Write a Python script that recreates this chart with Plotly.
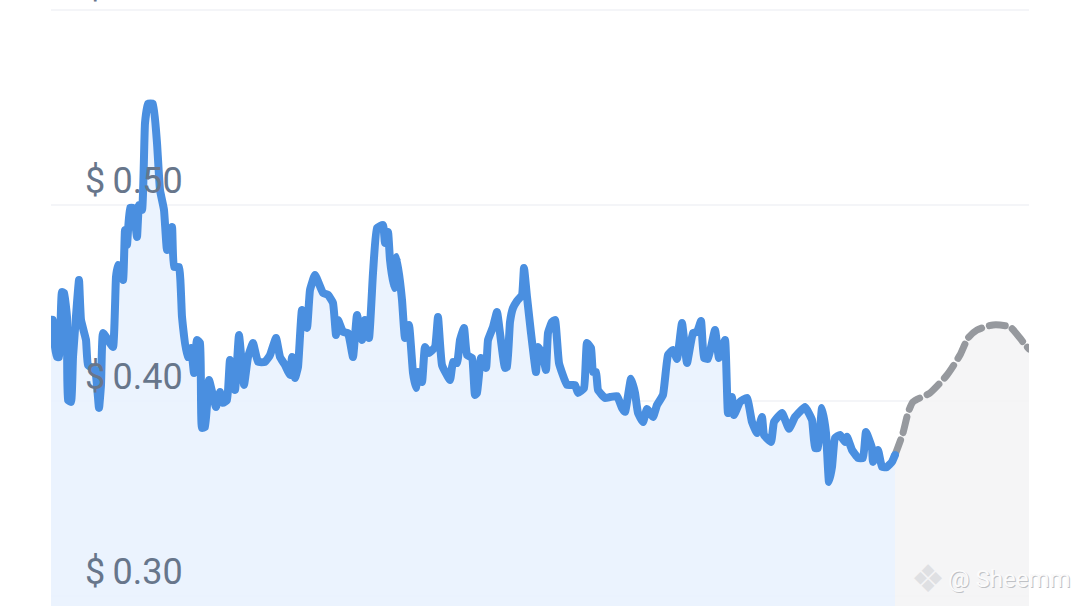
import plotly.graph_objects as go

days = [0,2,4,6,8,11,13,16,17,20,22,26,28,30,35,37,44,48,50,52,57,62,65,67,72,74,76,79,82,86,88,91,94,97,102,106,109,113,116,121,123,128,131,136,140,143,146,149,151,154,158,165,169,172,176,179,184,188,193,197,202,207,214,219,225,229,234,239,241,244,247,251,256,259,264,272,277,282,285,287,292,297,302,306,311,314,318,322,326,332,334,337,339,343,346,351,354,358,362,365,367,371,374,378,384,387,391,399,402,406,409,413,416,421,424,426,430,435,437,442,446,449,454,456,459,462,466,471,473,476,480,485,487,491,495,497,501,504,508,516,524,527,533,536,540,542,545,547,554,559,566,571,574,580,584,587,592,596,602,606,612,617,622,626,631,636,642,646,650,653,657,664,668,674,677,681,683,689,696,701,706,711,713,720,723,731,738,744,754,761,764,767,771,775,778,781,784,789,794,796,801,807,812,815,821,822,827,831,836,841,844]
prices = [.4414,.4414,.4275,.4224,.4224,.4557,.4552,.4429,.4004,.3994,.4224,.4501,.4618,.4414,.4311,.4183,.4158,.3963,.4081,.4347,.4311,.4275,.4634,.4695,.4618,.4874,.4798,.4987,.4987,.4839,.5002,.4977,.5422,.5520,.5520,.5320,.5079,.4977,.4772,.4890,.4685,.4685,.4429,.4224,.4270,.4142,.4311,.4296,.3861,.3866,.4106,.3968,.4045,.3989,.4004,.4209,.4055,.4337,.4081,.4224,.4296,.4199,.4199,.4234,.4321,.4224,.4183,.4132,.4224,.4117,.4173,.4465,.4373,.4567,.4644,.4552,.4542,.4501,.4337,.4414,.4352,.4347,.4224,.4439,.4311,.4414,.4321,.4654,.4885,.4900,.4808,.4864,.4721,.4577,.4736,.4516,.4321,.4388,.4142,.4065,.4147,.4096,.4275,.4245,.4275,.4429,.4183,.4106,.4199,.4193,.4311,.4373,.4234,.4219,.4030,.4040,.4219,.4168,.4311,.4378,.4455,.4347,.4168,.4173,.4403,.4475,.4511,.4542,.4680,.4531,.4347,.4147,.4275,.4245,.4158,.4347,.4403,.4414,.4193,.4081,.4081,.4040,.4065,.4296,.4270,.4147,.4147,.4055,.4014,.4019,.4024,.3963,.3943,.4112,.4040,.3937,.3891,.3958,.3917,.3978,.4030,.4234,.4260,.4214,.4398,.4193,.4347,.4352,.4408,.4219,.4214,.4362,.4219,.4311,.3937,.4019,.3927,.3994,.4014,.3891,.3835,.3917,.3825,.3789,.3891,.3937,.3856,.3917,.3968,.3902,.3758,.3758,.3963,.3835,.3584,.3661,.3809,.3825,.3789,.3815,.3748,.3707,.3707,.3840,.3758,.3687,.3748,.3661,.3661,.3687,.3722]

forecast_days = [844,852,857,862,879,896,909,917,926,942,959,972,978]
forecast_prices = [.3722,.3835,.3937,.3994,.4040,.4132,.4234,.4321,.4362,.4388,.4378,.4301,.4265]

tick_values = [0.30, 0.40, 0.50, 0.60]
tick_labels = ["$\u20090.30", "$\u20090.40", "$\u20090.50", "$\u20090.60"]
watermark = "@ Sheemm"

fig = go.Figure()
fig.add_trace(go.Scatter(
    x=forecast_days, y=forecast_prices, mode="lines", fill="tozeroy",
    fillcolor="rgba(243,243,245,0.85)",
    line=dict(color="#96999e", width=7, dash="16px,8px", shape="spline", smoothing=0.6),
    hoverinfo="skip",
))
fig.add_trace(go.Scatter(
    x=days, y=prices, mode="lines", fill="tozeroy",
    fillcolor="rgba(232,241,254,0.88)",
    line=dict(color="#4a8fe0", width=8, shape="spline", smoothing=0.35),
    hoverinfo="skip",
))

annotations = [
    dict(x=32, y=v, xref="x", yref="y", text=t, showarrow=False,
         xanchor="left", yanchor="bottom", yshift=1,
         font=dict(family="Roboto", size=36, color="#67768b"))
    for v, t in zip(tick_values, tick_labels)
]

wm_y = 0.3087
annotations += [
    dict(x=877, y=wm_y, xref="x", yref="y", text="❖", showarrow=False, xanchor="center", yanchor="middle",
         font=dict(family="DejaVu Sans", size=38, color="#dfe0e3")),
    dict(x=895, y=wm_y, xref="x", yref="y", text=watermark, showarrow=False, xanchor="left", yanchor="middle",
         xshift=1, yshift=-1, font=dict(family="Roboto", size=24, color="#bfc1c5")),
    dict(x=895, y=wm_y, xref="x", yref="y", text=watermark, showarrow=False, xanchor="left", yanchor="middle",
         font=dict(family="Roboto", size=24, color="#fbfbfb")),
]

fig.update_layout(
    width=1080, height=606, autosize=False,
    margin=dict(l=51, r=51, t=0, b=0),
    paper_bgcolor="white", plot_bgcolor="white",
    showlegend=False, annotations=annotations,
    xaxis=dict(range=[0, 978], visible=False, showgrid=False, zeroline=False, fixedrange=True),
    yaxis=dict(range=[0.2949, 0.6052], tickvals=tick_values, showticklabels=False, ticks="",
               showgrid=True, gridcolor="#f4f5f8", gridwidth=2, zeroline=False, showline=False, fixedrange=True),
)
fig.write_html(
    "out.html",
    config={"displayModeBar": False},
    post_script="document.documentElement.style.overflow='hidden';document.body.style.margin='0';"
                "document.querySelectorAll('.js-line').forEach(function(p){p.style.strokeLinejoin='round';p.style.strokeLinecap='round';});",
)
